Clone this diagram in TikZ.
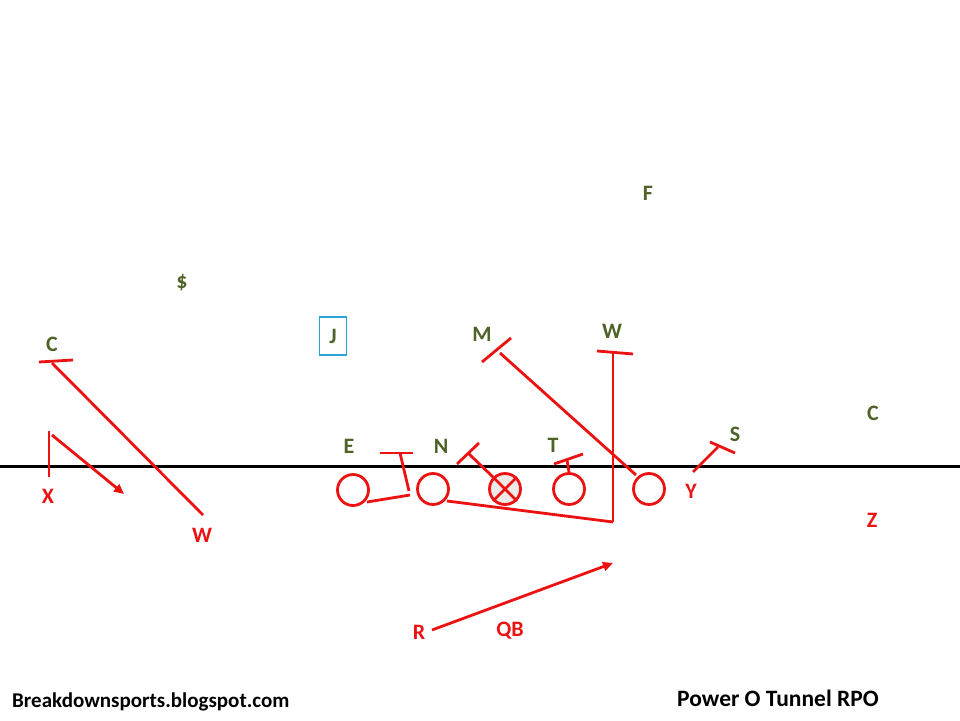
\documentclass[tikz,border=0pt]{standalone}
\usepackage{fontspec}
\setmainfont{Carlito}
\usetikzlibrary{arrows.meta}
\definecolor{dgreen}{RGB}{79,98,40}
\definecolor{pred}{RGB}{236,18,18}
\definecolor{jblue}{RGB}{40,164,216}
\definecolor{cgray}{RGB}{236,234,230}
\begin{document}
\begin{tikzpicture}[x=1pt,y=-1pt,
  dlab/.style={text=dgreen,font=\fontsize{22}{24}\selectfont\bfseries,inner sep=0pt},
  olab/.style={text=pred,font=\fontsize{22}{24}\selectfont\bfseries,inner sep=0pt},
  foot/.style={text=black,font=\fontsize{21}{24}\selectfont\bfseries,inner sep=0pt},
  ttl/.style={text=black,font=\fontsize{23.5}{26}\selectfont\bfseries,inner sep=0pt},
  rl/.style={draw=pred,line width=2.8pt},
  olman/.style={circle,draw=pred,line width=2.8pt,minimum size=31pt,inner sep=0pt},
  arr/.style={rl,-{Triangle[length=10pt,width=9pt]}}]
\useasboundingbox (0,0) rectangle (960,720);
% line of scrimmage
\coordinate (losL) at (0,466);
\coordinate (losR) at (960,466);
\draw[line width=3pt] (losL) -- (losR);
% defense labels
\node[dlab] (dollar) at (182,283) {\$};
\node[dlab] (F) at (648,193) {F};
\node[dlab] (CL) at (52,344) {C};
\node[dlab,draw=jblue,line width=1.8pt,minimum width=27pt,minimum height=38pt] (J) at (333,336) {J};
\node[dlab] (M) at (482,334) {M};
\node[dlab] (WD) at (612,331) {W};
\node[dlab] (E) at (349,446) {E};
\node[dlab] (N) at (441,446) {N};
\node[dlab] (T) at (553,445) {T};
\node[dlab] (S) at (735,434) {S};
\node[dlab] (CR) at (873,413) {C};
% offense labels
\node[olab] (X) at (48,496) {X};
\node[olab] (WO) at (202,535) {W};
\node[olab] (Y) at (691,491) {Y};
\node[olab] (Z) at (872,520) {Z};
\node[olab] (R) at (419,632) {R};
\node[olab] (QB) at (510,631) {QB};
% linemen
\node[olman] (LT) at (353,490) {};
\node[olman] (LG) at (433,489) {};
\node[olman,fill=cgray] (Cn) at (505,489) {};
\draw[rl] (Cn.north west) -- (Cn.south east) (Cn.north east) -- (Cn.south west);
\node[olman] (RG) at (569,489) {};
\node[olman] (RT) at (649,489) {};
% C / W (X side)
\coordinate (cb1) at (39,362); \coordinate (cb2) at (73,360);
\coordinate (cs1) at (52,363); \coordinate (cs2) at (203,515);
\draw[rl] (cb1) -- (cb2);
\draw[rl] (cs1) -- (cs2);
% X release
\coordinate (xv1) at (49,431); \coordinate (xv2) at (49,477);
\draw[rl] (xv1) -- (xv2);
\coordinate (xa1) at (52,435); \coordinate (xa2) at (124,494);
\draw[arr] (xa1) -- (xa2);
% LT to pull
\coordinate (lt1) at (367,502); \coordinate (lt2) at (410,495);
\draw[rl] (lt1) -- (lt2);
\coordinate (es1) at (409,491); \coordinate (es2) at (400,453);
\draw[rl] (es1) -- (es2);
\coordinate (eb1) at (380,453); \coordinate (eb2) at (413,453);
\draw[rl] (eb1) -- (eb2);
% LG pull
\coordinate (pull) at (613,522);
\coordinate (lg1) at (447,501);
\draw[rl] (lg1) -- (pull);
\coordinate (wtop) at (613,352);
\draw[rl] (pull) -- (wtop);
\coordinate (wb1) at (597,351); \coordinate (wb2) at (633,354);
\draw[rl] (wb1) -- (wb2);
% center block on N
\coordinate (nb1) at (457,464); \coordinate (nb2) at (479,443);
\draw[rl] (nb1) -- (nb2);
\coordinate (ns1) at (468,453); \coordinate (ns2) at (493,477);
\draw[rl] (ns1) -- (ns2);
% RG block on T
\coordinate (tb1) at (554,464); \coordinate (tb2) at (583,454);
\draw[rl] (tb1) -- (tb2);
\coordinate (ts1) at (567,460);
\draw[rl] (ts1) -- (RG.north);
% RT block on M
\coordinate (mb1) at (482,362); \coordinate (mb2) at (511,338);
\draw[rl] (mb1) -- (mb2);
\coordinate (ms1) at (500,353); \coordinate (ms2) at (636,475);
\draw[rl] (ms1) -- (ms2);
% Y block on S
\coordinate (sb1) at (710,442); \coordinate (sb2) at (735,453);
\draw[rl] (sb1) -- (sb2);
\coordinate (ss1) at (718,447); \coordinate (ss2) at (693,472);
\draw[rl] (ss1) -- (ss2);
% RB path
\coordinate (rb1) at (432,630); \coordinate (rb2) at (613,563);
\draw[arr] (rb1) -- (rb2);
% footer
\node[foot,anchor=west] (site) at (12,702) {Breakdownsports.blogspot.com};
\node[ttl,anchor=west] (title) at (677,698) {Power O Tunnel RPO};
\end{tikzpicture}
\end{document}
